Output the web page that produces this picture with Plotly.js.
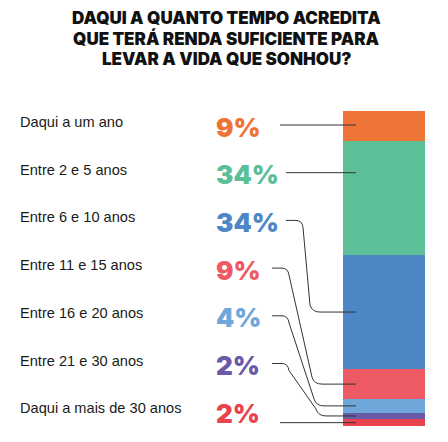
<!DOCTYPE html>
<html>
<head>
<meta charset="utf-8">
<script src="https://cdn.plot.ly/plotly-3.0.1.min.js"></script>
<style>
  html, body { margin: 0; padding: 0; background: #fff; }
  #chart { width: 448px; height: 442px; }
</style>
</head>
<body>
<div id="chart"></div>
<script>
const categories = [
  'Daqui a um ano',
  'Entre 2 e 5 anos',
  'Entre 6 e 10 anos',
  'Entre 11 e 15 anos',
  'Entre 16 e 20 anos',
  'Entre 21 e 30 anos',
  'Daqui a mais de 30 anos'
];
const values = [9, 34, 34, 9, 4, 2, 2];
const colors = ['#EE7337', '#5CBF97', '#4E87C5', '#EE5A64', '#6FA7DB', '#6A5AA8', '#E8434E'];
const titleLines = ['DAQUI A QUANTO TEMPO ACREDITA', 'QUE TERÁ RENDA SUFICIENTE PARA', 'LEVAR A VIDA QUE SONHOU?'];

const W = 448, H = 442;
const padTop = 111, padBottom = 16;
const total = values.reduce((a, b) => a + b, 0);
const plotH = H - padTop - padBottom;

// pixel row -> y data units (y axis is reversed, 0 at top)
function py(p) { return (p - padTop) * total / plotH; }

const barX = 384, barW = 82, lineEnd = 356;

const traces = values.map((v, i) => ({
  type: 'bar',
  x: [barX],
  y: [v],
  width: barW,
  marker: { color: colors[i], line: { width: 0 } },
  hoverinfo: 'skip',
  showlegend: false
}));

const annotations = [];
const shapes = [];

// title lines sit above the plot area, placed in paper units
titleLines.forEach((t, i) => {
  const pix = 18 + i * 20.5;
  annotations.push({
    text: t, xref: 'paper', yref: 'paper',
    x: 0.505, y: 1 + (padTop - pix) / plotH, xanchor: 'center', yanchor: 'middle',
    showarrow: false,
    font: { family: 'Inter', size: 17, color: '#111', weight: 900 }
  });
});

let cum = 0;
categories.forEach((c, i) => {
  const row = 122 + i * 47.7;
  const v = values[i];
  const segTop = padTop + cum * plotH / total;
  cum += v;
  const segBot = padTop + cum * plotH / total;
  const mid = (segTop + segBot) / 2;

  annotations.push({
    text: c, x: 18, y: py(row), xanchor: 'left', yanchor: 'middle',
    showarrow: false, font: { family: 'Liberation Sans, Arial', size: 14.6, color: '#1a1a1a' }
  });
  const label = v + '%';
  annotations.push({
    text: label, x: 214, y: py(row + 5), xanchor: 'left', yanchor: 'middle',
    showarrow: false, font: { family: 'Inter', size: 26, color: colors[i], weight: 900 }
  });

  const textEnd = 214 + (label.length === 2 ? 48 : 64);
  let y0 = row + 3;
  let y1 = (y0 >= segTop && y0 <= segBot) ? y0 : mid;
  let path;
  if (Math.abs(y1 - y0) < 12) {
    const x0 = textEnd + (label.length === 2 ? 18 : 8);
    path = `M ${x0},${py(y1)} L ${lineEnd},${py(y1)}`;
  } else {
    const x0 = textEnd + (label.length === 2 ? 10 : 8);
    const xa = x0 + 10;
    const xb = 308 + 2 * i;
    path = `M ${x0},${py(y0)} L ${xa},${py(y0)} Q ${xa + 6},${py(y0)} ${xa + 7},${py(y0 + 7)}` +
      ` L ${xb - 2},${py(y1 - 7)} Q ${xb},${py(y1)} ${xb + 8},${py(y1)} L ${lineEnd},${py(y1)}`;
  }
  shapes.push({
    type: 'path', xref: 'x', yref: 'y', path: path, layer: 'above',
    line: { color: '#333', width: 1 }
  });
});

Plotly.newPlot('chart', traces, {
  width: W, height: H,
  margin: { l: 0, r: 0, t: padTop, b: padBottom },
  paper_bgcolor: '#fff', plot_bgcolor: '#fff',
  barmode: 'stack', bargap: 0,
  xaxis: { range: [0, W], visible: false, fixedrange: true },
  yaxis: { range: [total, 0], visible: false, fixedrange: true },
  annotations: annotations,
  shapes: shapes
}, { displayModeBar: false, staticPlot: true });
</script>
</body>
</html>
